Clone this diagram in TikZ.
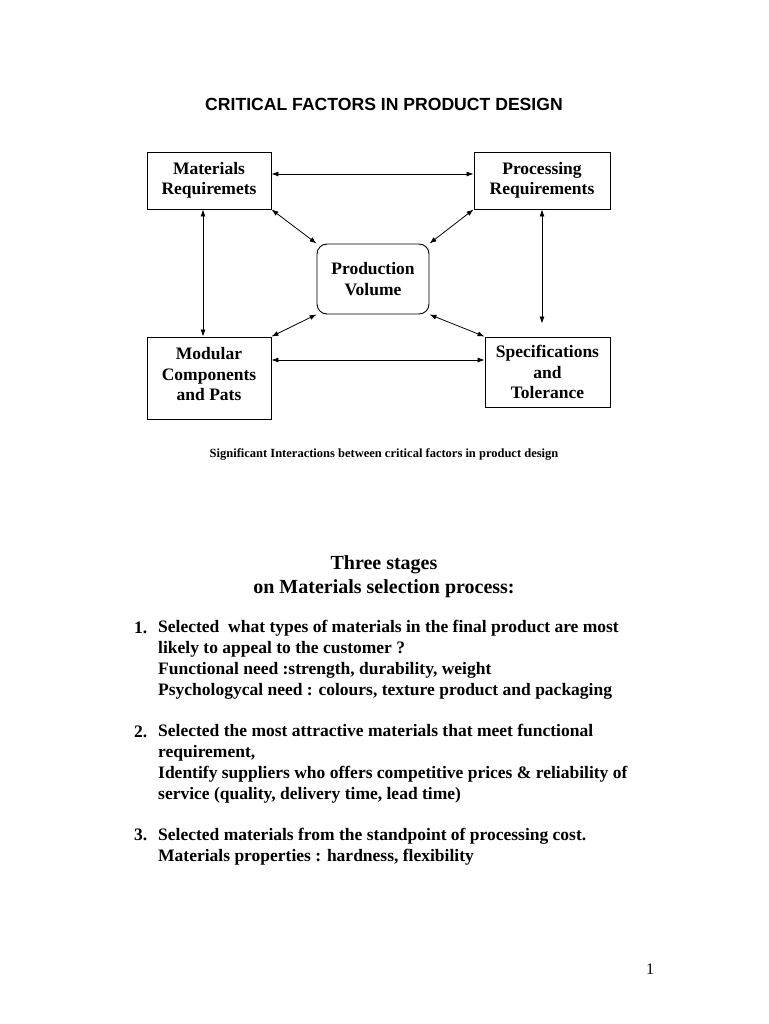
\documentclass[tikz,border=0pt]{standalone}
\usepackage{fontspec}
\setmainfont{Liberation Serif}
\newfontfamily\arialfont{Liberation Sans}
\usetikzlibrary{arrows.meta}

\tikzset{
  factor/.style={draw, line width=0.9pt, inner sep=0pt, align=center,
    font=\fontsize{17.5}{20.5}\selectfont\bfseries},
  link/.style={{Latex[length=7pt,width=5pt]}-{Latex[length=7pt,width=5pt]}, line width=0.8pt},
  listtext/.style={anchor=base west, inner sep=0pt, align=left,
    font=\fontsize{17.5}{20.8}\selectfont\bfseries}
}

\begin{document}
\begin{tikzpicture}[x=1pt,y=-1pt]
  \useasboundingbox[fill=white] (0,0) rectangle (768,1024);

  % title
  \node[font=\arialfont\bfseries\fontsize{17.6}{20}\selectfont, anchor=base] (title) at (384,111) {CRITICAL FACTORS IN PRODUCT DESIGN};

  % the five factors
  \node[factor, minimum width=124pt, minimum height=57pt] (mat) at (209,180.5) {Materials\\Requiremets};
  \node[factor, minimum width=136pt, minimum height=57pt] (proc) at (542,180.5) {Processing\\Requirements};
  \node[factor, rounded corners=10pt, minimum width=112pt, minimum height=70pt] (vol) at (373,279) {Production\\Volume};
  \node[factor, text depth=8pt, minimum width=124pt, minimum height=82pt] (mod) at (209,378) {Modular\\Components\\and Pats};
  \node[factor, minimum width=125pt, minimum height=70pt] (spec) at (547.5,372) {Specifications\\and\\Tolerance};

  % interactions
  \draw[link] (mat.east |- 0,174) -- (proc.west |- 0,174);
  \draw[link] (mat.south -| 203,0) -- (mod.north -| 203,0);
  \draw[link, shorten >=13pt] (proc.south) -- (proc.south |- spec.north);
  \draw[link] (mod.east |- 0,360) -- (spec.west |- 0,360);
  \draw[link] (mat.south east) -- (vol.north west);
  \draw[link] (proc.south west) -- (vol.north east);
  \draw[link] (mod.north east) -- (vol.south west);
  \draw[link] (spec.north west) -- (vol.south east);

  \node[font=\fontsize{12.5}{14}\selectfont\bfseries, anchor=base] (caption) at (384,457) {Significant Interactions between critical factors in product design};

  % materials selection
  \node[font=\fontsize{20}{24}\selectfont\bfseries, align=center, anchor=base] (stages) at (384,593) {Three stages\\on Materials selection process:};

  \node[listtext] (n1) at (134,633) {1.};
  \node[listtext] (s1) at (158,695) {Selected\ \ what types of materials in the final product are most\\likely to appeal to the customer ?\\Functional need :strength, durability, weight\\Psychologycal need : colours, texture product and packaging};
  \node[listtext] (n2) at (134,737) {2.};
  \node[listtext] (s2) at (158,799) {Selected the most attractive materials that meet functional\\requirement,\\Identify suppliers who offers competitive prices \& reliability of\\service (quality, delivery time, lead time)};
  \node[listtext] (n3) at (134,840) {3.};
  \node[listtext] (s3) at (158,861) {Selected materials from the standpoint of processing cost.\\Materials properties : hardness, flexibility};

  \node[font=\fontsize{16}{18}\selectfont, anchor=base] (page) at (650,974) {1};
\end{tikzpicture}
\end{document}
